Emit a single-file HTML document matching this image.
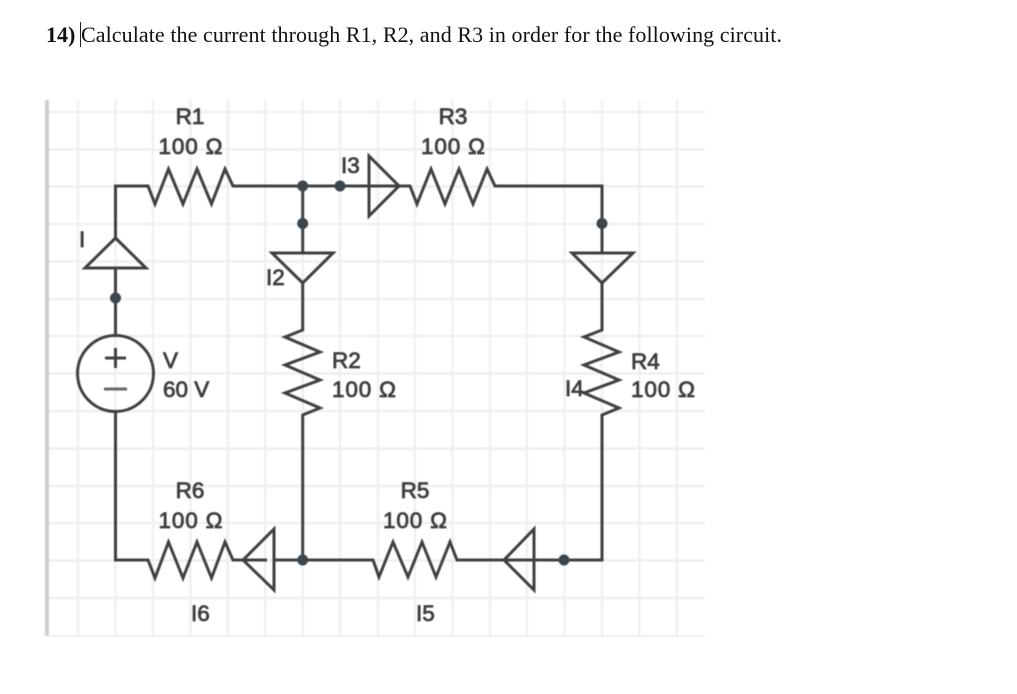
<!DOCTYPE html>
<html><head><meta charset="utf-8"><style>
html,body{margin:0;padding:0;background:#fff;width:1017px;height:694px;overflow:hidden}
svg{position:absolute;left:0;top:0}
.t{font-family:"Liberation Sans",sans-serif;font-size:22.5px;fill:#3e3e3e;stroke:#3e3e3e;stroke-width:.8px}
.g line{stroke:#efefef;stroke-width:2.4}
.w{fill:none;stroke:#404040;stroke-width:3;stroke-linejoin:miter}
.d{fill:#3c464c}
</style></head><body>
<svg width="1017" height="694" viewBox="0 0 1017 694" xmlns="http://www.w3.org/2000/svg">
<g style="filter:blur(.5px)">
<g class="g">
<line x1="78" y1="100" x2="78" y2="636"/><line x1="115.5" y1="100" x2="115.5" y2="636"/><line x1="153" y1="100" x2="153" y2="636"/><line x1="190.4" y1="100" x2="190.4" y2="636"/><line x1="227.8" y1="100" x2="227.8" y2="636"/><line x1="265.2" y1="100" x2="265.2" y2="636"/><line x1="302.7" y1="100" x2="302.7" y2="636"/><line x1="340" y1="100" x2="340" y2="636"/><line x1="378" y1="100" x2="378" y2="636"/><line x1="415" y1="100" x2="415" y2="636"/><line x1="452.5" y1="100" x2="452.5" y2="636"/><line x1="490" y1="100" x2="490" y2="636"/><line x1="527" y1="100" x2="527" y2="636"/><line x1="564.5" y1="100" x2="564.5" y2="636"/><line x1="602" y1="100" x2="602" y2="636"/><line x1="639.5" y1="100" x2="639.5" y2="636"/><line x1="677" y1="100" x2="677" y2="636"/>
<line x1="47" y1="112" x2="705" y2="112"/><line x1="47" y1="149.5" x2="705" y2="149.5"/><line x1="47" y1="186.5" x2="705" y2="186.5"/><line x1="47" y1="224" x2="705" y2="224"/><line x1="47" y1="261.5" x2="705" y2="261.5"/><line x1="47" y1="299" x2="705" y2="299"/><line x1="47" y1="336" x2="705" y2="336"/><line x1="47" y1="373.5" x2="705" y2="373.5"/><line x1="47" y1="411" x2="705" y2="411"/><line x1="47" y1="448.5" x2="705" y2="448.5"/><line x1="47" y1="486" x2="705" y2="486"/><line x1="47" y1="523" x2="705" y2="523"/><line x1="47" y1="560.5" x2="705" y2="560.5"/><line x1="47" y1="598" x2="705" y2="598"/>
</g>
<rect x="45" y="100" width="4" height="536" fill="#cfcfcf"/>
<rect x="47" y="635" width="658" height="2" fill="#eeeeee"/>

<polyline class="w" points="115.5,238 115.5,186 148,186 155,204 168.5,169 183,204 197,169 211.5,204 225,169 233,186 369,186"/>
<polygon class="w" points="115.5,238 146,268 85,268"/>
<line class="w" x1="115.5" y1="268" x2="115.5" y2="335"/>
<circle class="w" cx="115.5" cy="373.5" r="38"/>
<line class="w" x1="115.5" y1="348" x2="115.5" y2="368"/><line class="w" x1="105" y1="358" x2="126" y2="358"/>
<line x1="104" y1="389" x2="127" y2="389" stroke="#6a6a6a" stroke-width="3"/>
<polygon class="w" points="369,156 399,186 369,216"/>
<line class="w" x1="369" y1="186" x2="399" y2="186"/>
<polyline class="w" points="399,186 410,186 417,204 431,169 445,204 459,169 473,204 487,169 495,186 602,186 602,253"/>
<polygon class="w" points="572,253 633,253 602,283"/>
<polyline class="w" points="602,283 602,330 584,337 619,352 584,365 619,380 584,393 619,408 602,415 602,560 534,560"/>
<polygon class="w" points="534,529 504,560 534,590"/>
<line class="w" x1="504" y1="560" x2="534" y2="560"/>
<polyline class="w" points="504,560 457,560 450,542 436,577 422,542 408,577 393,542 379,577 373,560 274,560"/>
<line class="w" x1="302.7" y1="186" x2="302.7" y2="253"/>
<polygon class="w" points="272,253 333,253 302.7,283"/>
<polyline class="w" points="302.7,283 302.7,330 285,337 320,352 285,365 320,380 285,393 320,408 302.7,415 302.7,560"/>
<polygon class="w" points="274,529 243,560 274,590"/>
<line class="w" x1="243" y1="560" x2="267" y2="560"/>
<polyline class="w" points="243,560 233,560 225,542 211.5,578 197,542 183,578 168.5,542 155,578 148,560 115.5,560 115.5,411"/>

<circle class="d" cx="115.5" cy="298" r="5.5"/>
<circle class="d" cx="302.7" cy="186" r="5.5"/>
<circle class="d" cx="340" cy="186" r="5.5"/>
<circle class="d" cx="302.7" cy="223.5" r="5.5"/>
<circle class="d" cx="602" cy="223.5" r="5.5"/>
<circle class="d" cx="302.7" cy="560" r="5.5"/>
<circle class="d" cx="564" cy="560" r="5.5"/>

<text class="t" x="190" y="124" text-anchor="middle">R1</text>
<text class="t" x="190.5" y="154" text-anchor="middle" textLength="64">100 Ω</text>
<text class="t" x="453" y="124" text-anchor="middle">R3</text>
<text class="t" x="453" y="154" text-anchor="middle" textLength="64">100 Ω</text>
<text class="t" x="341" y="173">I3</text>
<text class="t" x="79" y="247">I</text>
<text class="t" x="266" y="285">I2</text>
<text class="t" x="163" y="368">V</text>
<text class="t" x="163" y="397">60 V</text>
<text class="t" x="332" y="368">R2</text>
<text class="t" x="332" y="397" textLength="64">100 Ω</text>
<text class="t" x="631" y="369">R4</text>
<text class="t" x="631" y="397" textLength="64">100 Ω</text>
<text class="t" x="565" y="396">I4</text>
<text class="t" x="190" y="498" text-anchor="middle">R6</text>
<text class="t" x="190.5" y="528" text-anchor="middle" textLength="64">100 Ω</text>
<text class="t" x="415" y="498" text-anchor="middle">R5</text>
<text class="t" x="415" y="528" text-anchor="middle" textLength="64">100 Ω</text>
<text class="t" x="191" y="621">I6</text>
<text class="t" x="416" y="621">I5</text>
</g>
<rect x="80" y="22" width="1" height="25" fill="#222"/>
<text x="46" y="42" font-family="'Liberation Serif',serif" font-size="22" font-weight="bold" fill="#111">14)</text>
<text x="81" y="42" font-family="'Liberation Serif',serif" font-size="22" fill="#111" textLength="701">Calculate the current through R1, R2, and R3 in order for the following circuit.</text>
</svg>
</body></html>
